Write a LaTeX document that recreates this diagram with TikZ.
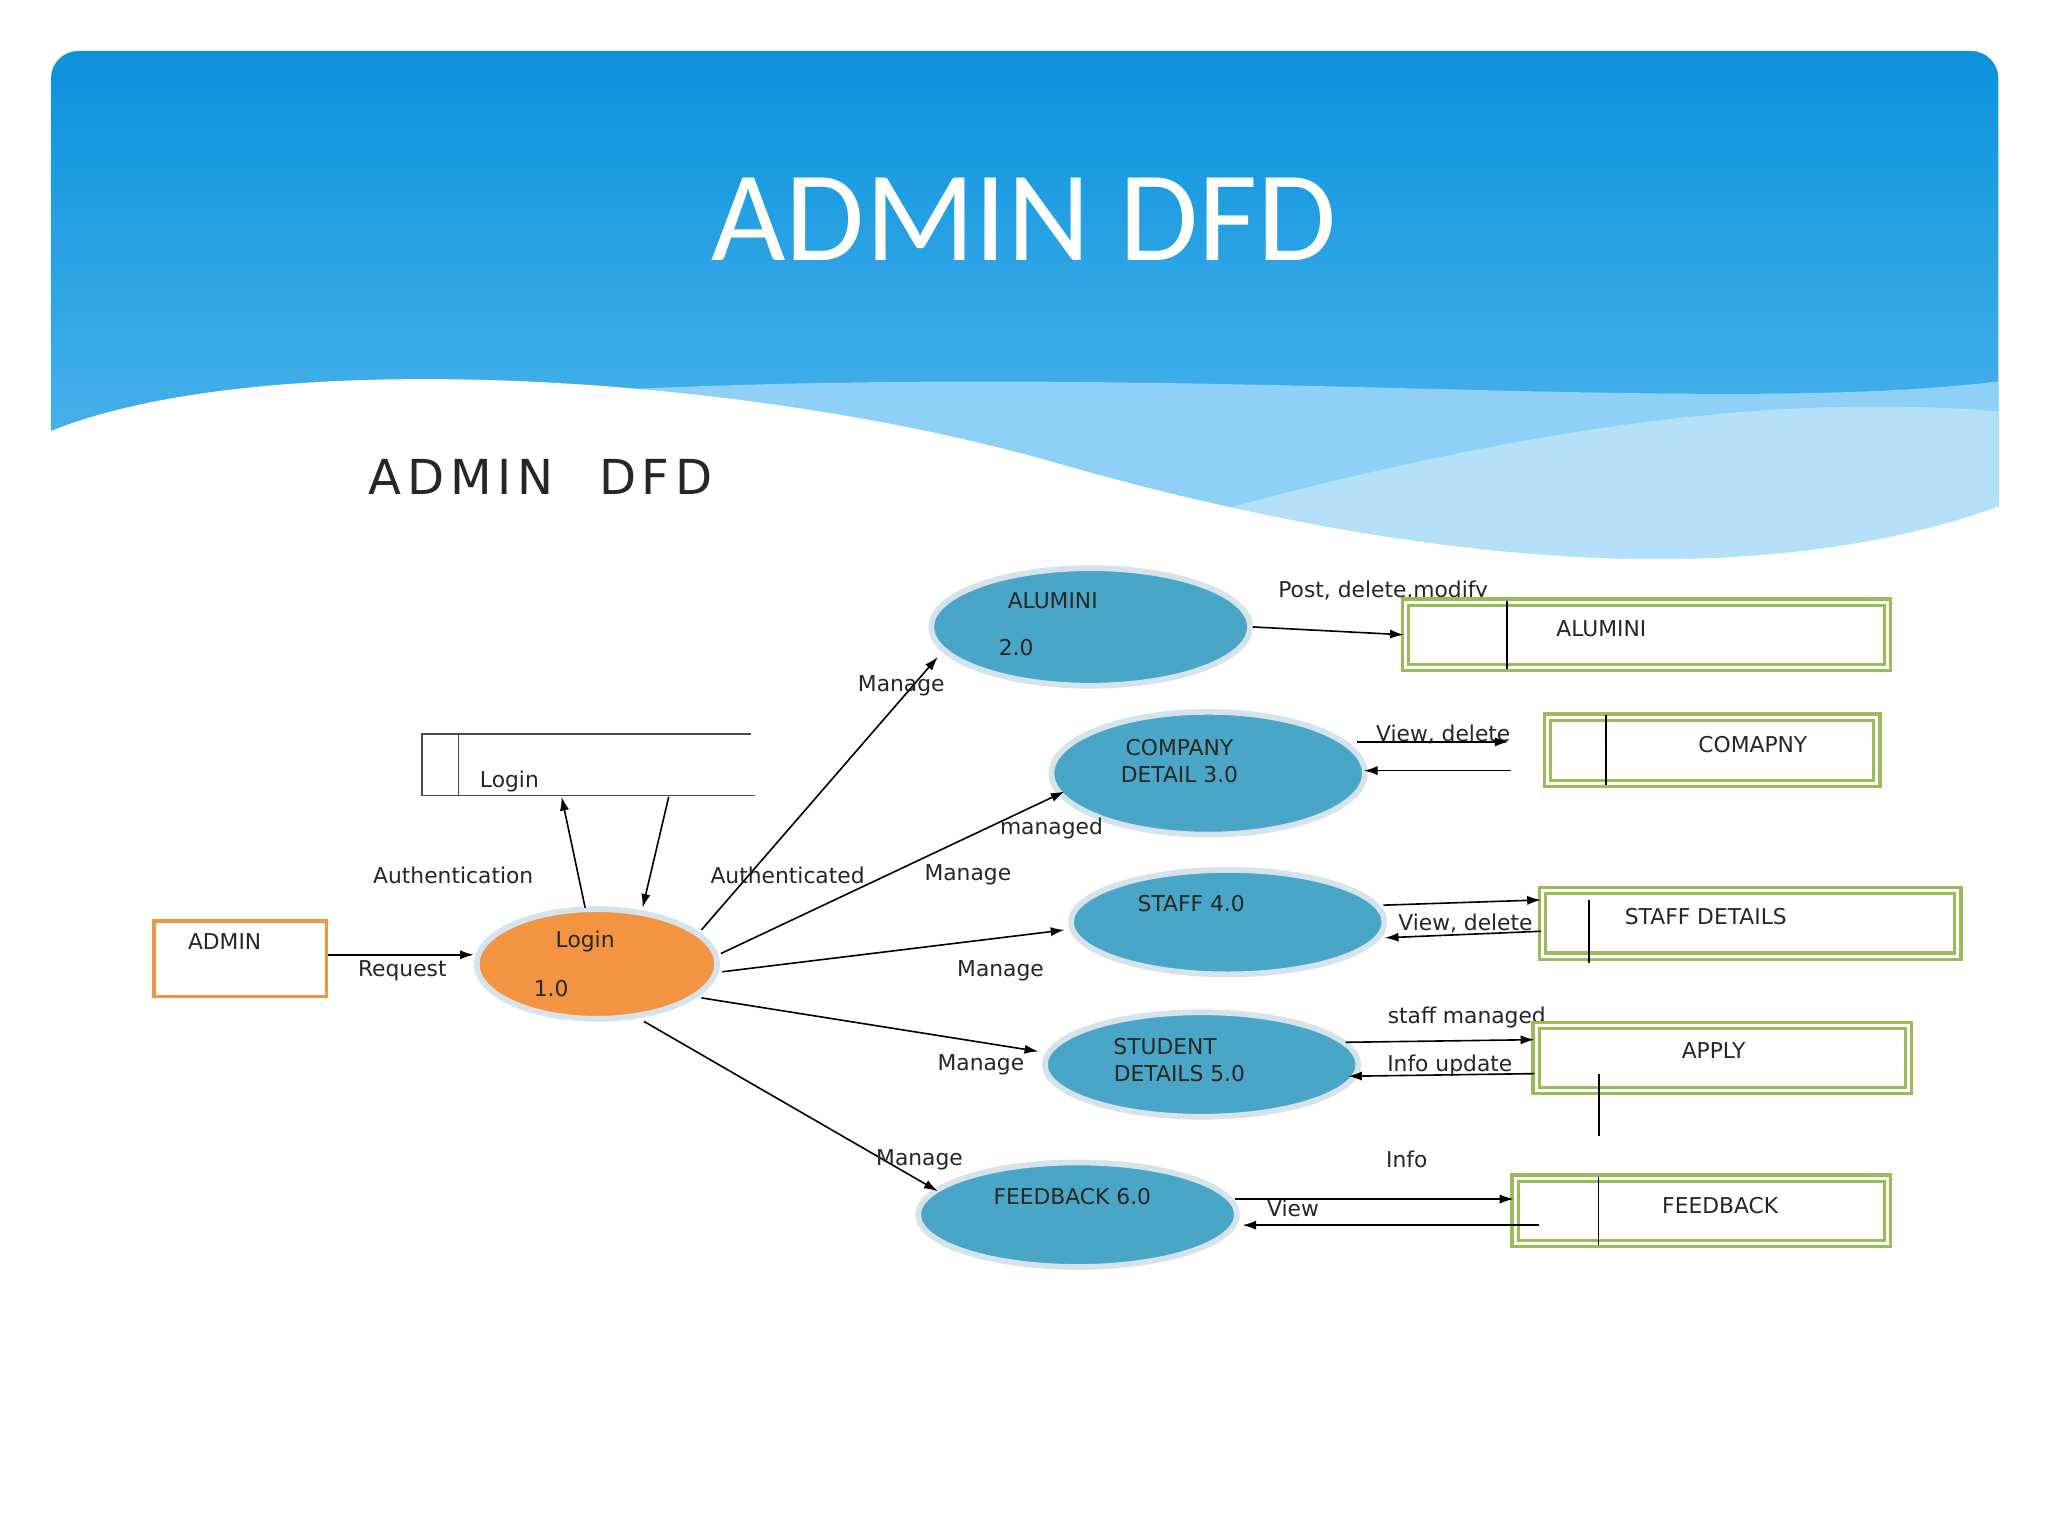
\documentclass[tikz,border=0pt]{standalone}
\usepackage{fontspec}
\setmainfont{DejaVu Sans}
\newfontfamily\titlef{Carlito}
\newfontfamily\subf[LetterSpace=12]{DejaVu Sans}
\usetikzlibrary{shapes.geometric,arrows.meta,calc}
\definecolor{hdtop}{HTML}{0A92DC}
\definecolor{hdbot}{HTML}{5EBDF0}
\definecolor{band}{HTML}{8FD0F6}
\definecolor{band2}{HTML}{B5E0FA}
\definecolor{teal}{HTML}{4AA6C6}
\definecolor{rim}{HTML}{D5E3EA}
\definecolor{orng}{HTML}{F39443}
\definecolor{gr}{HTML}{9BBB59}
\begin{document}
\begin{tikzpicture}[x=0.02cm,y=-0.02cm,
  lbl/.style={font=\fontsize{9.5}{11}\selectfont,inner sep=0pt,text=black!85},
  proc/.style={ellipse,fill=teal,draw=rim,line width=2.5pt},
  store/.style={rectangle,draw=gr,double=white,double distance=1.3pt,line width=1.4pt,fill=white,inner sep=0pt},
  arr/.style={-{Latex[length=6pt,width=4pt]},line width=0.7pt},
  ln/.style={line width=0.7pt}]
\useasboundingbox (0,0) rectangle (1568,1176);
\fill[white] (0,0) rectangle (1568,1176);
% header
\shade[top color=hdtop,bottom color=hdbot,rounded corners=12pt] (39,450) -- (39,39) -- (1530,39) -- (1530,450) -- cycle;
\fill[band] (440,300) .. controls (900,275) and (1300,320) .. (1530,292) -- (1530,450) -- (440,450) -- cycle;
\fill[band2] (900,400) .. controls (1150,330) and (1350,300) .. (1530,315) -- (1530,450) -- (900,450) -- cycle;
\fill[white] (30,330) -- (39,330) .. controls (200,265) and (560,285) .. (800,352) .. controls (1000,410) and (1300,470) .. (1530,388) -- (1540,388) -- (1540,470) -- (30,470) -- cycle;
\node[text=white,font=\titlef\fontsize{56}{56}\selectfont] (title) at (784,168) {ADMIN DFD};
\node[font=\subf\fontsize{21}{24}\selectfont,text=black!85] (sub) at (414,365) {ADMIN\hspace{0.5em} DFD};

% external entity
\node[draw=orng,line width=1.5pt,fill=white,minimum width=132*0.02cm,minimum height=58*0.02cm] (admin) at (184,734) {};
\node[lbl] (admint) at (172,721) {ADMIN};
% login process
\node[ellipse,fill=orng,draw=rim,line width=2.5pt,minimum width=184*0.02cm,minimum height=84*0.02cm] (login) at (457,738) {};
\node[lbl] (lt1) at (448,721) {Login};
\node[lbl] (lt2) at (422,757) {1.0};
% login store
\draw[ln,black!70] (575,562) -- (323,562) -- (323,609) -- (578,609);
\draw[ln,black!70] (351,562) -- (351,609);
\node[lbl] (lstore) at (390,598) {Login};
\coordinate (ls1) at (430,610);
\coordinate (ls2) at (512,610);
\coordinate (lg1) at (448,695);
\coordinate (lg2) at (492,695);
\draw[arr] (lg1) -- (ls1);
\draw[arr] (ls2) -- (lg2);
\node[lbl] at (347,670) {Authentication};
\draw[arr] (admin.east |- 0,731) -- (login.west |- 0,731);
\node[lbl] at (308,743) {Request};

% processes
\node[proc,minimum width=244*0.02cm,minimum height=90*0.02cm] (p2) at (835,480) {};
\node[lbl] at (806,460) {ALUMINI};
\node[lbl] at (778,496) {2.0};
\node[proc,minimum width=240*0.02cm,minimum height=94*0.02cm] (p3) at (925,592) {};
\node[lbl] at (903,572) {COMPANY};
\node[lbl] at (903,593) {DETAIL 3.0};
\node[proc,minimum width=240*0.02cm,minimum height=80*0.02cm] (p4) at (940,706) {};
\node[lbl] at (912,692) {STAFF 4.0};
\node[proc,minimum width=240*0.02cm,minimum height=80*0.02cm] (p5) at (920,815) {};
\node[lbl] at (892,801) {STUDENT};
\node[lbl] at (903,822) {DETAILS 5.0};
\node[proc,minimum width=244*0.02cm,minimum height=80*0.02cm] (p6) at (825,930) {};
\node[lbl] at (821,916) {FEEDBACK 6.0};

% login to processes
\draw[arr] ($(login.center)+(80,-26)$) -- ($(p2.center)+(-117,23)$);
\draw[arr] ($(login.center)+(95,-8)$) -- ($(p3.center)+(-110,14)$);
\draw[arr] ($(login.center)+(96,6)$) -- ($(p4.center)+(-125,6)$);
\draw[arr] ($(login.center)+(80,26)$) -- ($(p5.center)+(-125,-10)$);
\draw[arr] ($(login.center)+(36,44)$) -- ($(p6.center)+(-107,-18)$);
\node[lbl] at (690,525) {Manage};
\node[lbl] at (603,670) {Authenticated};
\node[lbl] at (805,634) {managed};
\node[lbl] at (741,670) {Manage};
\node[lbl] at (766,743) {Manage};
\node[lbl] at (751,815) {Manage};
\node[lbl] at (704,888) {Manage};

% labels behind stores
\node[lbl] at (1059,453) {Post, delete,modify};
\node[lbl] at (1105,562) {View, delete};
\node[lbl] at (1122,707) {View, delete};
\node[lbl] at (1123,779) {staff managed};
\node[lbl] at (1110,816) {Info update};
\node[lbl] at (990,925) {View};
\node[lbl] at (1077,888) {Info};

% stores
\node[store,minimum width=369*0.02cm,minimum height=50*0.02cm] (s2) at (1260.5,486) {};
\draw[ln] ($(s2.north west)+(79,0)$) -- ($(s2.south west)+(79,0)$);
\node[lbl] at (1226,481) {ALUMINI};
\node[store,minimum width=252*0.02cm,minimum height=51*0.02cm] (s3) at (1311,574.5) {};
\draw[ln] ($(s3.north west)+(46,0)$) -- ($(s3.south west)+(46,0)$);
\node[lbl] at (1342,570) {COMAPNY};
\node[store,minimum width=318*0.02cm,minimum height=50*0.02cm] (s4) at (1340,707) {};
\draw[ln] ($(s4.north west)+(37,8)$) -- ($(s4.south west)+(37,4)$);
\node[lbl] at (1306,702) {STAFF DETAILS};
\node[store,minimum width=285*0.02cm,minimum height=50*0.02cm] (s5) at (1318.5,810) {};
\coordinate (ap1) at (1224,822);
\coordinate (ap2) at (1224,870);
\draw[ln] (ap1) -- (ap2);
\node[lbl] at (1312,804) {APPLY};
\node[store,minimum width=285*0.02cm,minimum height=50*0.02cm] (s6) at (1302.5,927) {};
\draw[ln] ($(s6.north west)+(65,0)$) -- ($(s6.south west)+(65,0)$);
\node[lbl] at (1317,923) {FEEDBACK};

% process <-> store arrows
\draw[arr] (p2.east) -- (s2.west);
\coordinate (c3a) at (1155,568);
\coordinate (c3b) at (1157,590);
\draw[arr] (p3.east |- c3a) ++(-8,0) -- (c3a);
\draw[arr] (c3b) -- ($(p3.east |- c3b)+(-3,0)$);
\draw[arr] ($(p4.east)+(-3,-13)$) -- (s4.west |- 0,689);
\draw[arr] (s4.west |- 0,713) -- ($(p4.east)+(-2,12)$);
\draw[arr] ($(p5.east)+(-12,-17)$) -- (s5.west |- 0,796);
\draw[arr] (s5.west |- 0,822) -- ($(p5.east)+(-10,9)$);
\draw[arr] ($(p6.east)+(-4,-12)$) -- (s6.west |- 0,918);
\coordinate (c6b) at (1178,938);
\draw[arr] (c6b) -- ($(p6.east)+(2,8)$);
\end{tikzpicture}
\end{document}
